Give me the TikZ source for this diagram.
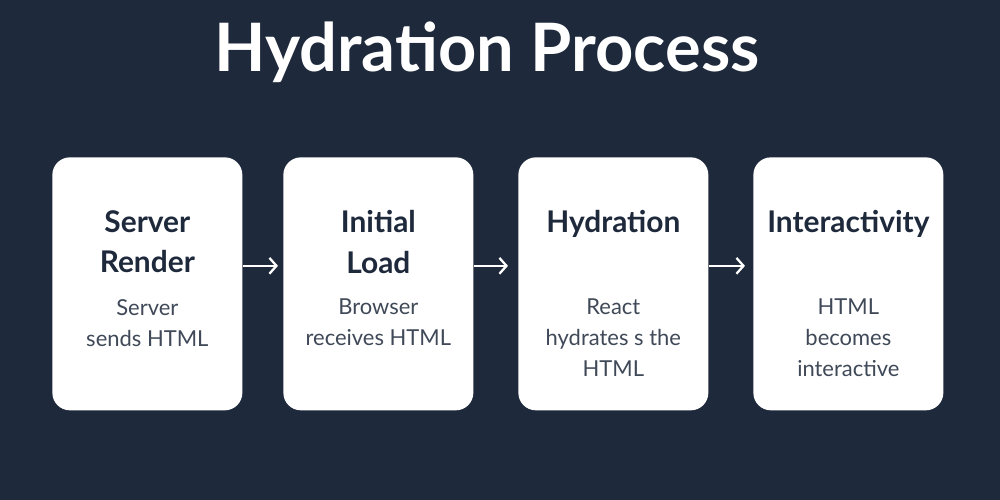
\documentclass[tikz,border=0pt]{standalone}
\usepackage{fontspec}
\setmainfont{Lato}
\usetikzlibrary{arrows.meta,positioning}
\definecolor{bgnavy}{HTML}{1E293B}
\definecolor{inkdark}{HTML}{1E293B}
\begin{document}
\begin{tikzpicture}[
    stage/.style={rectangle, fill=white, rounded corners=10pt, minimum width=3.8cm, minimum height=5.06cm, anchor=north west},
    head/.style={anchor=north, text=inkdark, font=\fontsize{17}{23}\selectfont\bfseries, align=center, below=0.95cm},
    body/.style={anchor=north, text=inkdark!85, font=\fontsize{12.5}{17.6}\selectfont, align=center, below=2.72cm},
    flow/.style={-{Straight Barb[length=4pt,width=9pt]}, white, line width=1.3pt}]
    \fill[bgnavy] (0,0) rectangle (20,10);
    \node (title) at (9.74,8.95) [text=white, font=\fontsize{38}{44}\selectfont\bfseries] {Hydration Process};

    \node (server) at (1.04,6.86) [stage] {};
    \node (load) at (5.66,6.86) [stage] {};
    \node (hydrate) at (10.36,6.86) [stage] {};
    \node (interact) at (15.06,6.86) [stage] {};

    \node (serverhead) [head] at (server.north) {Server\\Render};
    \node (serverbody) [body] at (server.north) {Server\\sends HTML};
    \node (loadhead) [head] at (load.north) {Initial\\Load};
    \node (loadbody) [body] at (load.north) {Browser\\receives HTML};
    \node (hydratehead) [head] at (hydrate.north) {Hydration};
    \node (hydratebody) [body] at (hydrate.north) {React\\hydrates s the\\HTML};
    \node (interacthead) [head] at (interact.north) {Interactivity};
    \node (interactbody) [body] at (interact.north) {HTML\\becomes\\interactive};

    \draw [flow] ([yshift=0.36cm]server.east) -- ([yshift=0.36cm,xshift=-0.1cm]load.west);
    \draw [flow] ([yshift=0.36cm]load.east) -- ([yshift=0.36cm,xshift=-0.2cm]hydrate.west);
    \draw [flow] ([yshift=0.36cm]hydrate.east) -- ([yshift=0.36cm,xshift=-0.16cm]interact.west);
\end{tikzpicture}
\end{document}
